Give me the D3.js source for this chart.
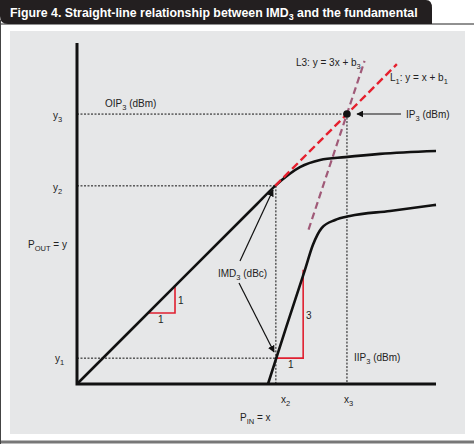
<!DOCTYPE html><html><head><meta charset="utf-8">
<script src="https://d3js.org/d3.v7.min.js"></script>
<style>body{margin:0;background:#fff}svg{display:block}text{font-family:"Liberation Sans",Arial,sans-serif}</style>
</head><body><svg id="c" width="474" height="444"></svg>
<script>
const fundamental=[[0,0],[27.6,27.6],[50,50],[55.2,55.2],[62.1,60.4],[67.7,62.4],[74.7,63.2],[84.4,64.1],[100,64.9]];
const imd3=[[53.2,0],[58.3,15.9],[63.5,31.8],[65.7,38.7],[68.2,43.5],[71.9,45.7],[76.0,46.8],[87.2,48.2],[100,49.9]];
const L1=[[55.2,55.2],[89.1,89.1]];
const L3=[[64.5,43],[80.1,90]];
const x2=55.4,y1=7.2,y2=55.2,x3=75.2,y3=75.2;
const tri1=[[19.8,19.8],[27.3,19.8],[27.3,27.3]];
const tri3=[[55.4,7.2],[63,7.2],[63,31.8]];

const svg=d3.select("#c");
const x=d3.scaleLinear().domain([0,100]).range([77,436]);
const y=d3.scaleLinear().domain([0,95]).range([384,43]);
svg.append("rect").attr("x",10).attr("y",31).attr("width",455).attr("height",403).attr("fill","#e6e7e8");
svg.append("path").attr("d","M0,24 L474,24").attr("stroke","#222").attr("stroke-width",1);
svg.append("path").attr("d","M0,0 H426 Q432,0 432,8 V24 H8 Q0,24 0,16 Z").attr("fill","#231f20");
svg.append("line").attr("x1",0).attr("x2",474).attr("y1",442).attr("y2",442).attr("stroke","#777").attr("stroke-width",3);
svg.append("line").attr("x1",0.5).attr("x2",0.5).attr("y1",20).attr("y2",444).attr("stroke","#444");
const t=svg.append("text").attr("x",10).attr("y",17).attr("fill","#fff").attr("font-weight","bold").attr("font-size",12.5);
t.append("tspan").text("Figure 4. Straight-line relationship between IMD");
t.append("tspan").attr("font-size",9).attr("dy",3).text("3");
t.append("tspan").attr("dy",-3).text(" and the fundamental");
const tw=t.node().getComputedTextLength();
if(tw>408)t.attr("transform",`translate(10,0) scale(${408/tw},1) translate(-10,0)`);

const line=d3.line().x(d=>x(d[0])).y(d=>y(d[1]));
const dot=(a,b)=>svg.append("path").attr("d",line([a,b])).attr("stroke","#111").attr("stroke-width",1).attr("stroke-dasharray","2,1.5").attr("fill","none");
dot([0,y3],[x3,y3]);dot([0,y2],[x2,y2]);dot([0,y1],[x2,y1]);
dot([x2,y2],[x2,0]);dot([x3,y3],[x3,0]);
[tri1,tri3].forEach(tr=>svg.append("path").attr("d",line(tr)).attr("stroke","#e02030").attr("stroke-width",1.6).attr("fill","none"));
svg.append("path").attr("d",line([[0,95],[0,0],[100,0]])).attr("stroke","#111").attr("stroke-width",3).attr("fill","none");
const cl=d3.line().x(d=>x(d[0])).y(d=>y(d[1])).curve(d3.curveMonotoneX);
svg.append("path").attr("d",cl(fundamental)).attr("stroke","#111").attr("stroke-width",2.6).attr("fill","none");
svg.append("path").attr("d",cl(imd3)).attr("stroke","#111").attr("stroke-width",2.6).attr("fill","none");
svg.append("path").attr("d",line(L3)).attr("stroke","#a05a78").attr("stroke-width",2.2).attr("stroke-dasharray","7,4").attr("fill","none");
svg.append("path").attr("d",line(L1)).attr("stroke","#e5202e").attr("stroke-width",2.4).attr("stroke-dasharray","8,4").attr("fill","none");
svg.append("circle").attr("cx",x(x3)).attr("cy",y(y3)).attr("r",3.8).attr("fill","#111");
const defs=svg.append("defs");
defs.append("marker").attr("id","ah").attr("viewBox","0 0 10 10").attr("refX",9).attr("refY",5).attr("markerWidth",7).attr("markerHeight",7).attr("orient","auto").attr("markerUnits","userSpaceOnUse")
 .append("path").attr("d","M0,0 L10,5 L0,10 Z").attr("fill","#111");
const arr=(a,b,c,d)=>svg.append("line").attr("x1",a).attr("y1",b).attr("x2",c).attr("y2",d).attr("stroke","#111").attr("stroke-width",1.2).attr("marker-end","url(#ah)");
arr(401,114,357,114);
arr(240,261,273,190);
arr(239,283,274,352);
// labels: parts are strings (normal) or [sub] arrays
function lab(xp,yp,parts){const tx=svg.append("text").attr("x",xp).attr("y",yp).attr("font-size",10).attr("fill","#222");
 let sub=false;
 parts.forEach(p=>{const isSub=Array.isArray(p);const ts=tx.append("tspan").text(isSub?p[0]:p);
   if(isSub){ts.attr("font-size",7.5);if(!sub)ts.attr("dy",3);}else if(sub)ts.attr("dy",-3);
   sub=isSub;});}
lab(53,119,["y",["3"]]);lab(53,191,["y",["2"]]);lab(55,362,["y",["1"]]);
lab(28,248,["P",["OUT"]," = y"]);
lab(281,403,["x",["2"]]);lab(344,403,["x",["3"]]);
lab(240,421,["P",["IN"]," = x"]);
lab(105,107,["OIP",["3"]," (dBm)"]);
lab(406,118,["IP",["3"]," (dBm)"]);
lab(296,66,["L3: y = 3x + b",["3"]]);
lab(390,81,["L",["1"],": y = x + b",["1"]]);
lab(218,277,["IMD",["3"]," (dBc)"]);
lab(354,361,["IIP",["3"]," (dBm)"]);
lab(178,304,["1"]);lab(158,323,["1"]);lab(306,319,["3"]);lab(288,368,["1"]);
</script></body></html>
